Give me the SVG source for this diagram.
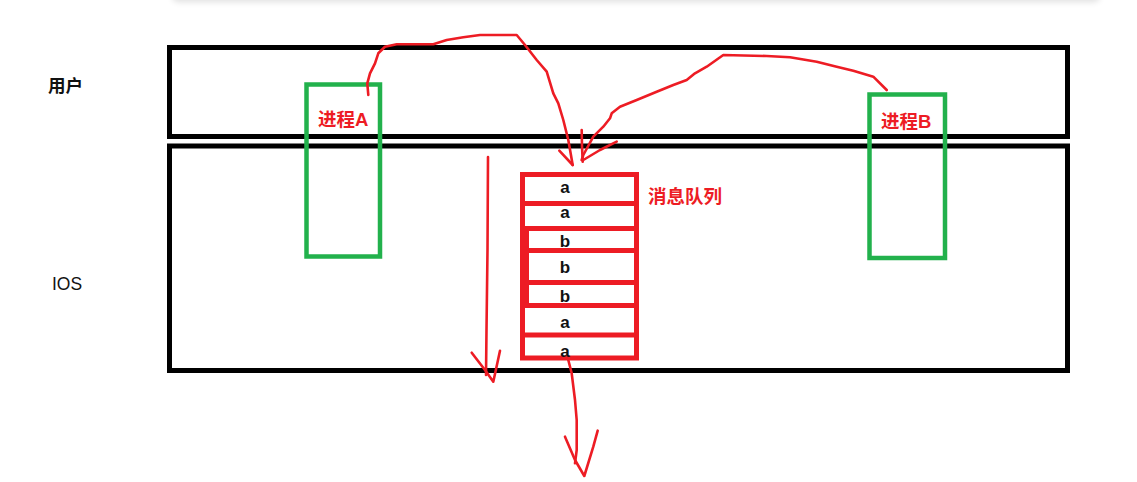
<svg xmlns="http://www.w3.org/2000/svg" width="1137" height="482" viewBox="0 0 1137 482">
<style>
.frame{fill:none;stroke:#000;stroke-width:5}
.proc{fill:none;stroke:#22b14c;stroke-width:4.5}
.q{fill:none;stroke:#ed1c24;stroke-width:5}
.ink{fill:none;stroke:#ed1c24;stroke-width:2.6;stroke-linecap:round;stroke-linejoin:round}
.lbl{font-family:"Liberation Sans","Noto Sans CJK SC",sans-serif;font-weight:bold;fill:#ed1c24;font-size:18.5px}
.side{font-family:"Liberation Sans","Noto Sans CJK SC",sans-serif;fill:#111;font-size:17.5px}
.msg{font-family:"Liberation Sans",sans-serif;font-weight:bold;fill:#111;font-size:17px;text-anchor:middle}
</style>
<defs>
<filter id="blur" x="-5%" y="-100%" width="110%" height="300%"><feGaussianBlur stdDeviation="3"/></filter>
</defs>
<rect width="1137" height="482" fill="#fff"/>
<g id="topbar">
<rect x="172" y="-12" width="928" height="14" rx="6" fill="#000" opacity="0.12" filter="url(#blur)"/>
<rect x="168" y="-12" width="936" height="12" fill="#fff"/>
</g>
<g id="user-layer">
<rect class="frame" x="169.5" y="47.5" width="898" height="89"/>
<text class="side" x="48" y="92" font-weight="bold">用户</text>
</g>
<g id="ios-layer">
<rect class="frame" x="169.5" y="146" width="898" height="224.5"/>
<text class="side" x="52" y="290" font-size="18">IOS</text>
</g>
<g id="processA">
<rect class="proc" x="306.5" y="84.5" width="73.5" height="172"/>
<text class="lbl" x="318" y="126">进程A</text>
</g>
<g id="processB">
<rect class="proc" x="869.5" y="94.5" width="75.5" height="163.5"/>
<text class="lbl" x="881" y="128">进程B</text>
</g>
<g id="queue">
<rect class="q" x="522.5" y="174.5" width="114" height="183.5"/>
<line class="q" x1="522" y1="203.5" x2="637" y2="203.5"/>
<line class="q" x1="522" y1="228.5" x2="637" y2="228.5"/>
<line class="q" x1="522" y1="250.5" x2="637" y2="250.5"/>
<line class="q" x1="522" y1="282.5" x2="637" y2="282.5"/>
<line class="q" x1="522" y1="305.5" x2="637" y2="305.5"/>
<line class="q" x1="522" y1="335" x2="637" y2="335"/>
<line stroke="#ed1c24" stroke-width="4" x1="527" y1="229" x2="527" y2="306"/>
<line stroke="#ed1c24" stroke-width="4" x1="637" y1="201" x2="637" y2="337"/>
<text class="msg" x="565" y="193">a</text>
<text class="msg" x="565" y="218">a</text>
<text class="msg" x="565" y="247">b</text>
<text class="msg" x="565" y="273">b</text>
<text class="msg" x="565" y="302">b</text>
<text class="msg" x="565" y="328">a</text>
<text class="msg" x="565" y="357">a</text>
<text class="lbl" x="648" y="203">消息队列</text>
</g>
<g id="connectors">
<polyline class="ink" points="368.3,95 367.3,83.3 370,73.3 375,63.3 378.3,53.3 385,46.7 396.7,44.3 433.3,44.3 446.7,40 463.3,37.3 480,35 516.7,35 525,45 536.7,60 546.7,71.7 553.3,93.3 558.3,103.3 563.3,120 568.3,140 572.7,165"/>
<polyline class="ink" points="559.3,150.7 572.7,165"/>
<polyline class="ink" points="886.7,90 873.3,76.7 853.3,70.7 836.7,66.7 816.7,61.7 790,57.3 766.7,56 723.3,55 706.7,66.7 695,73.3 686.7,80 673.3,85 656.7,91.7 636.7,100 620,106.7 611.7,113.3 610,118.3 603.3,126.7 593.3,136.7 583.3,155 581.7,160"/>
<polyline class="ink" points="581.7,130 582,146 582.7,161.7"/>
<polyline class="ink" points="616.7,141.7 600,150 583.3,160"/>
<polyline class="ink" points="488,157 487.5,250 486.5,330 486,375"/>
<polyline class="ink" points="471.7,352.7 485,370 493.3,381.7 500,350.7"/>
<polyline class="ink" points="568.3,360 571.7,373.3 575,400 576.7,420 576.7,450 575,463.3"/>
<polyline class="ink" points="565,436.7 575,460 584.3,476 593.3,446.7 597.7,430.7"/>
</g>
</svg>
